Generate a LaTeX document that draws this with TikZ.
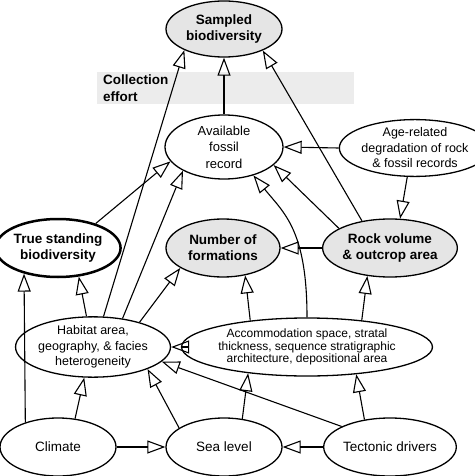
\documentclass[tikz,border=0pt]{standalone}
\usepackage{fontspec}
\setmainfont{Liberation Sans}
\usetikzlibrary{arrows.meta,shapes.geometric}
\begin{document}
\begin{tikzpicture}[x=1pt,y=-1pt,
  el/.style={ellipse,draw,line width=1.3pt,inner sep=0pt,align=center,minimum width=116pt,minimum height=58pt},
  gr/.style={fill=gray!20},
  arr/.style={line width=1.1pt,-{Triangle[open,length=18pt,width=13pt]}},
  bf/.style={font=\fontsize{13.5}{16}\selectfont\bfseries},
  rg/.style={font=\fontsize{13.5}{16}\selectfont},
  md/.style={font=\fontsize{12.5}{15.5}\selectfont},
  sm/.style={font=\fontsize{12}{12.5}\selectfont}]
\useasboundingbox (0,0) rectangle (474,476);
% collection effort band
\node[fill=gray!15,minimum width=257pt,minimum height=32pt,inner sep=0pt] (CE) at (225.5,88) {};
\node[anchor=west,align=left,inner sep=0pt,font=\fontsize{13.5}{17}\selectfont\bfseries] (CEt) at (103,88) {Collection\\effort};
% nodes
\node[el,gr,bf,minimum height=56pt] (S) at (224,29) {Sampled\\biodiversity};
\node[el,minimum width=118pt,minimum height=64pt,font=\fontsize{13}{16.5}\selectfont] (A) at (224,147) {Available\\fossil\\record};
\node[el,md,minimum height=56pt] (G) at (415,148) {Age-related\\degradation of rock\\\& fossil records};
\node[el,bf,line width=2.5pt] (T) at (58,248) {True standing\\biodiversity};
\node[el,gr,bf,minimum width=114pt] (N) at (223,248) {Number of\\formations};
\node[el,gr,bf] (R) at (390,248) {Rock volume\\\& outcrop area};
\node[el,md] (H) at (93,347) {Habitat area,\\geography, \& facies\\heterogeneity};
\node[el,sm,minimum width=210pt] (M) at (307,347) {Accommodation space, stratal\\thickness, sequence stratigraphic\\architecture, depositional area};
\node[el,rg] (C) at (58,447) {Climate};
\node[el,rg] (L) at (224,447) {Sea level};
\node[el,rg] (D) at (390,447) {Tectonic drivers};
% connectors
\draw[arr] (A.90) -- (S.270);
\draw[arr] (H.71) -- (S.208);
\draw[arr] (R.136) -- (S.331);
\draw[arr] (G.180) -- (A.0);
\draw[arr] (G.255) -- (R.71);
\draw[arr] (T.33) -- (A.195);
\draw[arr] (H.44) -- (A.210);
\draw[arr] (M.90) .. controls (307,230) and (284,213) .. (A.316);
\draw[arr] (R.159) -- (A.340);
\draw[arr] (R.180) -- (N.0);
\draw[arr] (H.102) -- (T.306);
\draw[arr] (C.143) -- (T.217);
\draw[arr] (H.28) -- (N.205);
\draw[arr] (M.155) -- (N.309);
\draw[arr] (M.26) -- (R.231);
\draw[arr] (M.180) -- (H.0);
\draw[arr] (C.59) -- (H.254);
\draw[arr] (L.157) -- (H.338);
\draw[arr] (D.157) -- (H.348);
\draw[arr] (L.57) -- (M.204);
\draw[arr] (D.133) -- (M.331);
\draw[arr] (C.0) -- (L.180);
\draw[arr] (D.180) -- (L.0);
\end{tikzpicture}
\end{document}
